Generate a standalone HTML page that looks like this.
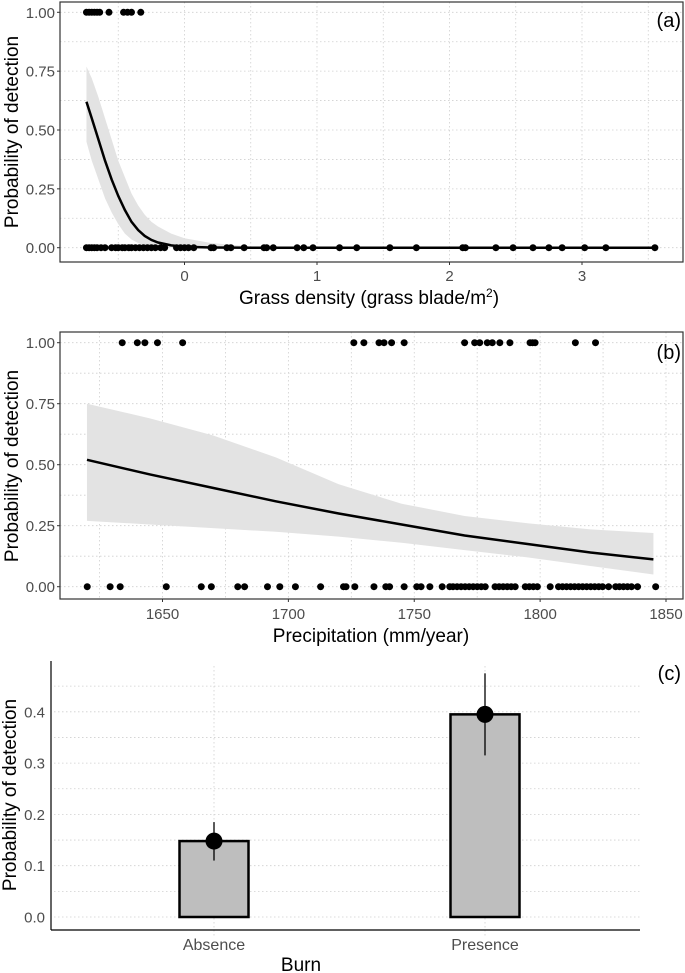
<!DOCTYPE html>
<html><head><meta charset="utf-8"><style>
html,body{margin:0;padding:0;background:#fff;width:685px;height:973px;overflow:hidden}
svg{display:block}
text{font-family:"Liberation Sans",sans-serif}
</style></head><body>
<svg id="fig" width="685" height="973" viewBox="0 0 685 973"></svg>
<script>
// ---------- Panel A data ----------
const aTop = [-0.74,-0.72,-0.7,-0.68,-0.66,-0.64,-0.57,-0.46,-0.43,-0.4,-0.33];
const aBottom = [-0.74,-0.72,-0.7,-0.68,-0.66,-0.63,-0.6,-0.55,-0.52,-0.5,-0.47,-0.45,-0.42,-0.4,-0.37,-0.34,-0.31,-0.28,-0.25,-0.22,-0.18,-0.15,-0.06,-0.03,0,0.03,0.07,0.2,0.22,0.32,0.35,0.45,0.6,0.62,0.67,0.85,0.9,0.97,1.17,1.3,1.55,1.75,2.1,2.12,2.35,2.48,2.63,2.75,2.85,3.02,3.18,3.55];
const aCurveX = [-0.74,-0.7,-0.65,-0.6,-0.55,-0.5,-0.45,-0.4,-0.35,-0.3,-0.25,-0.2,-0.1,0,0.2,0.5,1,2,3,3.55];
const aCurveY = [0.62,0.55,0.46,0.37,0.29,0.22,0.16,0.11,0.075,0.05,0.033,0.022,0.01,0.004,0.001,0,0,0,0,0];
const aUpper = [0.77,0.72,0.64,0.55,0.46,0.37,0.3,0.23,0.18,0.14,0.11,0.09,0.06,0.04,0.02,0.005,0,0,0,0];
const aLower = [0.45,0.37,0.29,0.21,0.15,0.1,0.06,0.035,0.02,0.01,0.005,0.003,0.001,0,0,0,0,0,0,0];
const aXTicks = [0,1,2,3];
const aYTicks = ["0.00","0.25","0.50","0.75","1.00"];
// ---------- Panel B data ----------
const bTop = [1634,1640,1643,1648,1658,1726,1730,1736,1738,1741,1746,1770,1774,1776,1779,1781,1784,1788,1796,1797,1798,1814,1822];
const bBottom = [1620.1,1629.2,1633.2,1651.5,1665.4,1669.4,1679.9,1682.6,1691.7,1696.6,1702.8,1712.8,1721.9,1722.9,1726.4,1734,1738.7,1740.2,1746,1751,1752.7,1756.2,1761.1,1764.1,1765.4,1767,1768.6,1770.2,1771.8,1773.4,1775,1776.6,1778.2,1782.1,1783.7,1785.3,1786.9,1788.5,1790.1,1794.1,1795.7,1797.3,1798.9,1804,1807.3,1808.9,1810.5,1812.1,1813.7,1815.3,1816.9,1818.5,1820.1,1821.7,1823.3,1824.8,1827.2,1830,1831.5,1833.1,1834.7,1836.3,1838.7,1845.9];
const bCurveX = [1620,1645,1670,1695,1720,1745,1770,1795,1820,1845];
const bCurveY = [0.52,0.46,0.405,0.35,0.3,0.255,0.21,0.175,0.14,0.112];
const bUpper = [0.75,0.69,0.62,0.53,0.42,0.34,0.29,0.26,0.235,0.22];
const bLower = [0.27,0.255,0.24,0.225,0.205,0.18,0.15,0.12,0.085,0.05];
const bXTicks = [1650,1700,1750,1800,1850];
const bYTicks = ["0.00","0.25","0.50","0.75","1.00"];
// ---------- Panel C data ----------
const cCats = ["Absence","Presence"];
const cVals = [0.148,0.395];
const cLo = [0.11,0.315];
const cHi = [0.185,0.475];
const cYTicks = ["0.0","0.1","0.2","0.3","0.4"];

const NS="http://www.w3.org/2000/svg";
const svg=document.getElementById('fig');
function el(tag,attrs,parent){const e=document.createElementNS(NS,tag);for(const k in attrs)e.setAttribute(k,attrs[k]);(parent||svg).appendChild(e);return e;}
function txt(s,attrs,parent){const t=el('text',attrs,parent);t.textContent=s;return t;}
const grid={stroke:'#cfcfcf','stroke-width':0.8,'stroke-dasharray':'1.5,2.5'};
const TK=15, TT=19, PL=20, YTX=18;

// ===== Panel A =====
(function(){
const g=el('g',{});


const L=60,R=683,T=2,B=262;
const xs=v=>184.5+v*132.5, ys=v=>247.7-v*235.4;
[0.125,0.375,0.625,0.875].forEach(v=>el('line',Object.assign({x1:L,x2:R,y1:ys(v),y2:ys(v)},grid),g));
[-0.5,0.5,1.5,2.5,3.5].forEach(v=>el('line',Object.assign({x1:xs(v),x2:xs(v),y1:T,y2:B},grid),g));
aYTicks.forEach(s=>{const y=ys(+s);el('line',Object.assign({x1:L,x2:R,y1:y,y2:y},grid),g);el('line',{x1:L-3,x2:L,y1:y,y2:y,stroke:'#333'},g);const t=txt(s,{x:L-5,y:y+5.5,'text-anchor':'end','font-size':TK,fill:'#4d4d4d'},g);});
aXTicks.forEach(v=>{const x=xs(v);el('line',Object.assign({x1:x,x2:x,y1:T,y2:B},grid),g);el('line',{x1:x,x2:x,y1:B,y2:B+3,stroke:'#333'},g);const t=txt(String(v),{x:x,y:281,'text-anchor':'middle','font-size':TK,fill:'#4d4d4d'},g);});
let d='';aCurveX.forEach((v,i)=>d+=(i?'L':'M')+xs(v)+','+ys(aUpper[i]));for(let i=aCurveX.length-1;i>=0;i--)d+='L'+xs(aCurveX[i])+','+ys(aLower[i]);
const rib=el('path',{d:d+'Z',fill:'#e3e3e3'},g);
d='';aCurveX.forEach((v,i)=>d+=(i?'L':'M')+xs(v)+','+ys(aCurveY[i]));
const ln=el('path',{d:d,fill:'none',stroke:'#000','stroke-width':2.5},g);
aTop.forEach(v=>{const c=el('circle',{cx:xs(v),cy:ys(1),r:3.5,fill:'#000'},g);});
aBottom.forEach(v=>{const c=el('circle',{cx:xs(v),cy:ys(0),r:3.5,fill:'#000'},g);});
el('rect',{x:L,y:T,width:R-L,height:B-T,fill:'none',stroke:'#333','stroke-width':1.2},g);
const lab=txt('(a)',{x:681,y:27,'text-anchor':'end','font-size':PL,fill:'#000'},g);
const yt=txt('Probability of detection',{x:0,y:0,transform:'translate('+YTX+',132) rotate(-90)','text-anchor':'middle','font-size':TT,fill:'#000'},g);
const xt=el('text',{x:369,y:304,'text-anchor':'middle','font-size':TT,fill:'#000'},g);xt.innerHTML='Grass density (grass blade/m<tspan font-size="12" dy="-7">2</tspan><tspan dy="7">)</tspan>';
})();

// ===== Panel B =====
(function(){
const g=el('g',{});


const L=60,R=683,T=332,B=599;
const xs=v=>162.5+(v-1650)*2.5175, ys=v=>586.7-v*244;
[0.125,0.375,0.625,0.875].forEach(v=>el('line',Object.assign({x1:L,x2:R,y1:ys(v),y2:ys(v)},grid),g));
[1625,1675,1725,1775,1825].forEach(v=>el('line',Object.assign({x1:xs(v),x2:xs(v),y1:T,y2:B},grid),g));
bYTicks.forEach(s=>{const y=ys(+s);el('line',Object.assign({x1:L,x2:R,y1:y,y2:y},grid),g);el('line',{x1:L-3,x2:L,y1:y,y2:y,stroke:'#333'},g);const t=txt(s,{x:L-5,y:y+5.5,'text-anchor':'end','font-size':TK,fill:'#4d4d4d'},g);});
bXTicks.forEach(v=>{const x=xs(v);el('line',Object.assign({x1:x,x2:x,y1:T,y2:B},grid),g);el('line',{x1:x,x2:x,y1:B,y2:B+3,stroke:'#333'},g);const t=txt(String(v),{x:x,y:619,'text-anchor':'middle','font-size':TK,fill:'#4d4d4d'},g);});
let d='';bCurveX.forEach((v,i)=>d+=(i?'L':'M')+xs(v)+','+ys(bUpper[i]));for(let i=bCurveX.length-1;i>=0;i--)d+='L'+xs(bCurveX[i])+','+ys(bLower[i]);
const rib=el('path',{d:d+'Z',fill:'#e3e3e3'},g);
d='';bCurveX.forEach((v,i)=>d+=(i?'L':'M')+xs(v)+','+ys(bCurveY[i]));
const ln=el('path',{d:d,fill:'none',stroke:'#000','stroke-width':2.5},g);
bTop.forEach(v=>{const c=el('circle',{cx:xs(v),cy:ys(1),r:3.5,fill:'#000'},g);});
bBottom.forEach(v=>{const c=el('circle',{cx:xs(v),cy:ys(0),r:3.5,fill:'#000'},g);});
el('rect',{x:L,y:T,width:R-L,height:B-T,fill:'none',stroke:'#333','stroke-width':1.2},g);
const lab=txt('(b)',{x:681,y:359,'text-anchor':'end','font-size':PL,fill:'#000'},g);
const yt=txt('Probability of detection',{x:0,y:0,transform:'translate('+YTX+',466) rotate(-90)','text-anchor':'middle','font-size':TT,fill:'#000'},g);
const xt=txt('Precipitation (mm/year)',{x:371,y:642,'text-anchor':'middle','font-size':TT,fill:'#000'},g);
})();

// ===== Panel C =====
(function(){
const g=el('g',{});


const L=51,R=640,T=661,B=930;
const ys=v=>917-v*513;
const xs=i=>214+i*271;
[0.05,0.15,0.25,0.35,0.45].forEach(v=>el('line',Object.assign({x1:L+3,x2:R,y1:ys(v),y2:ys(v)},grid),g));
cYTicks.forEach(s=>{const y=ys(+s);el('line',Object.assign({x1:L+3,x2:R,y1:y,y2:y},grid),g);const t=txt(s,{x:L-6,y:y+5.5,'text-anchor':'end','font-size':TK,fill:'#4d4d4d'},g);});
cCats.forEach((c,i)=>{const x=xs(i);el('line',Object.assign({x1:x,x2:x,y1:T+5,y2:B+8},grid),g);const t=txt(c,{x:x,y:950,'text-anchor':'middle','font-size':16,fill:'#4d4d4d'},g);});
cVals.forEach((v,i)=>{const x=xs(i);
const b=el('rect',{x:x-34.5,y:ys(v),width:69,height:ys(0)-ys(v),fill:'#bebebe',stroke:'#000','stroke-width':2.5},g);
const e=el('line',{x1:x,x2:x,y1:ys(cLo[i]),y2:ys(cHi[i]),stroke:'#000','stroke-width':1.3},g);
const p=el('circle',{cx:x,cy:ys(v),r:8.5,fill:'#000'},g);});
el('line',{x1:L,x2:L,y1:T,y2:B,stroke:'#000','stroke-width':1.2},g);
el('line',{x1:L,x2:R,y1:B,y2:B,stroke:'#000','stroke-width':1.2},g);
const lab=txt('(c)',{x:681,y:680,'text-anchor':'end','font-size':PL,fill:'#000'},g);
const yt=txt('Probability of detection',{x:0,y:0,transform:'translate(16,795) rotate(-90)','text-anchor':'middle','font-size':TT,fill:'#000'},g);
const xt=txt('Burn',{x:301,y:971,'text-anchor':'middle','font-size':TT,fill:'#000'},g);
})();
</script>
</body></html>
